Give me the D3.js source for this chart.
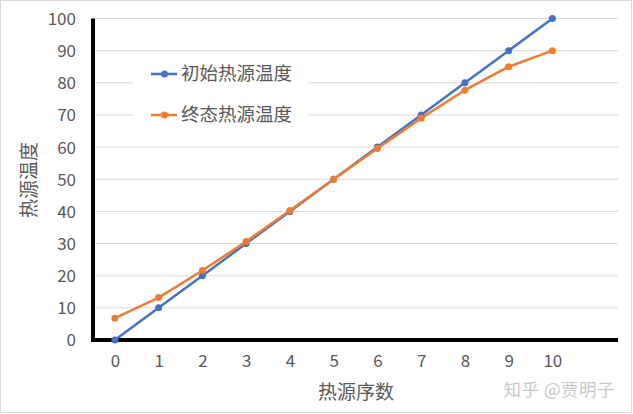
<!DOCTYPE html>
<html><head><meta charset="utf-8">
<script src="https://cdn.jsdelivr.net/npm/d3@7"></script>
<style>body{margin:0;background:#fff}svg{display:block}</style>
</head><body>
<script>
const categories = [0,1,2,3,4,5,6,7,8,9,10];
const initialTemp = [0,10,20,30,40,50,60,70,80,90,100];
const finalTemp = [6.8,13.2,21.6,30.6,40.3,50,59.6,69,77.7,85,90];
const yTicks = [0,10,20,30,40,50,60,70,80,90,100];
const seriesNames = ["初始热源温度","终态热源温度"];
const colors = ["#4472C4","#ED7D31"];

const W=633,H=414;
const svg=d3.select("body").append("svg").attr("width",W).attr("height",H);
const font='"Noto Sans CJK SC","Noto Sans",sans-serif';
svg.append("rect").attr("x",0.5).attr("y",0.5).attr("width",W-2).attr("height",H-2)
  .attr("fill","#fff").attr("stroke","#d9d9d9");

const x=d3.scaleLinear().domain([-0.5,11.5]).range([93,618]);
const y=d3.scaleLinear().domain([0,100]).range([340,18.5]);

// gridlines
svg.append("g").selectAll("line").data(yTicks.filter(d=>d>0)).join("line")
  .attr("x1",93).attr("x2",618).attr("y1",d=>y(d)).attr("y2",d=>y(d))
  .attr("stroke","#d9d9d9").attr("stroke-width",1);

// y axis labels
const yAxis=d3.axisLeft(y).tickValues(yTicks).tickSize(0).tickPadding(17);
const gy=svg.append("g").attr("transform","translate(93,0)").call(yAxis);
gy.select(".domain").remove();
gy.selectAll("text").attr("font-family",font).attr("font-size",17).attr("fill","#595959").attr("dy","0.35em");

// x axis labels
const xAxis=d3.axisBottom(x).tickValues(categories).tickSize(0).tickPadding(15).tickFormat(d3.format("d"));
const gx=svg.append("g").attr("transform","translate(0,340)").call(xAxis);
gx.select(".domain").remove();
gx.selectAll("text").attr("font-family",font).attr("font-size",17).attr("fill","#595959");

// axis lines
svg.append("line").attr("x1",93).attr("x2",93).attr("y1",y(100)).attr("y2",342).attr("stroke","#000").attr("stroke-width",4);
svg.append("line").attr("x1",91).attr("x2",618).attr("y1",340).attr("y2",340).attr("stroke","#000").attr("stroke-width",4);

// series
const data=[initialTemp,finalTemp];
const line=d3.line().x((d,i)=>x(categories[i])).y(d=>y(d));
data.forEach((vals,k)=>{
  svg.append("path").datum(vals).attr("d",line).attr("fill","none")
    .attr("stroke",colors[k]).attr("stroke-width",2.5).attr("stroke-linejoin","round");
  svg.append("g").selectAll("circle").data(vals).join("circle")
    .attr("cx",(d,i)=>x(categories[i])).attr("cy",d=>y(d)).attr("r",3.5).attr("fill",colors[k]);
});

// legend
svg.append("rect").attr("x",133).attr("y",56).attr("width",175).attr("height",78).attr("fill","#fff");
seriesNames.forEach((n,k)=>{
  const cy=[74,115][k];
  svg.append("line").attr("x1",151).attr("x2",177).attr("y1",cy).attr("y2",cy).attr("stroke",colors[k]).attr("stroke-width",2.5);
  svg.append("circle").attr("cx",164.5).attr("cy",cy).attr("r",3.5).attr("fill",colors[k]);
  svg.append("text").attr("x",181).attr("y",cy).attr("dy","0.35em").attr("font-family",font)
    .attr("font-size",18.5).attr("fill","#595959").text(n);
});

// axis titles
svg.append("text").attr("x",356).attr("y",392).attr("dy","0.35em").attr("text-anchor","middle")
  .attr("font-family",font).attr("font-size",19).attr("fill","#595959").text("热源序数");
svg.append("text").attr("transform","translate(29,180) rotate(-90)").attr("dy","0.35em").attr("text-anchor","middle")
  .attr("font-family",font).attr("font-size",19).attr("fill","#595959").text("热源温度");

// watermark
svg.append("text").attr("x",615).attr("y",390).attr("dy","0.35em").attr("text-anchor","end")
  .attr("font-family",font).attr("font-size",17.5).attr("letter-spacing",0.5).attr("fill","#c8c8c8").text("知乎 @贾明子");
</script>
</body></html>
